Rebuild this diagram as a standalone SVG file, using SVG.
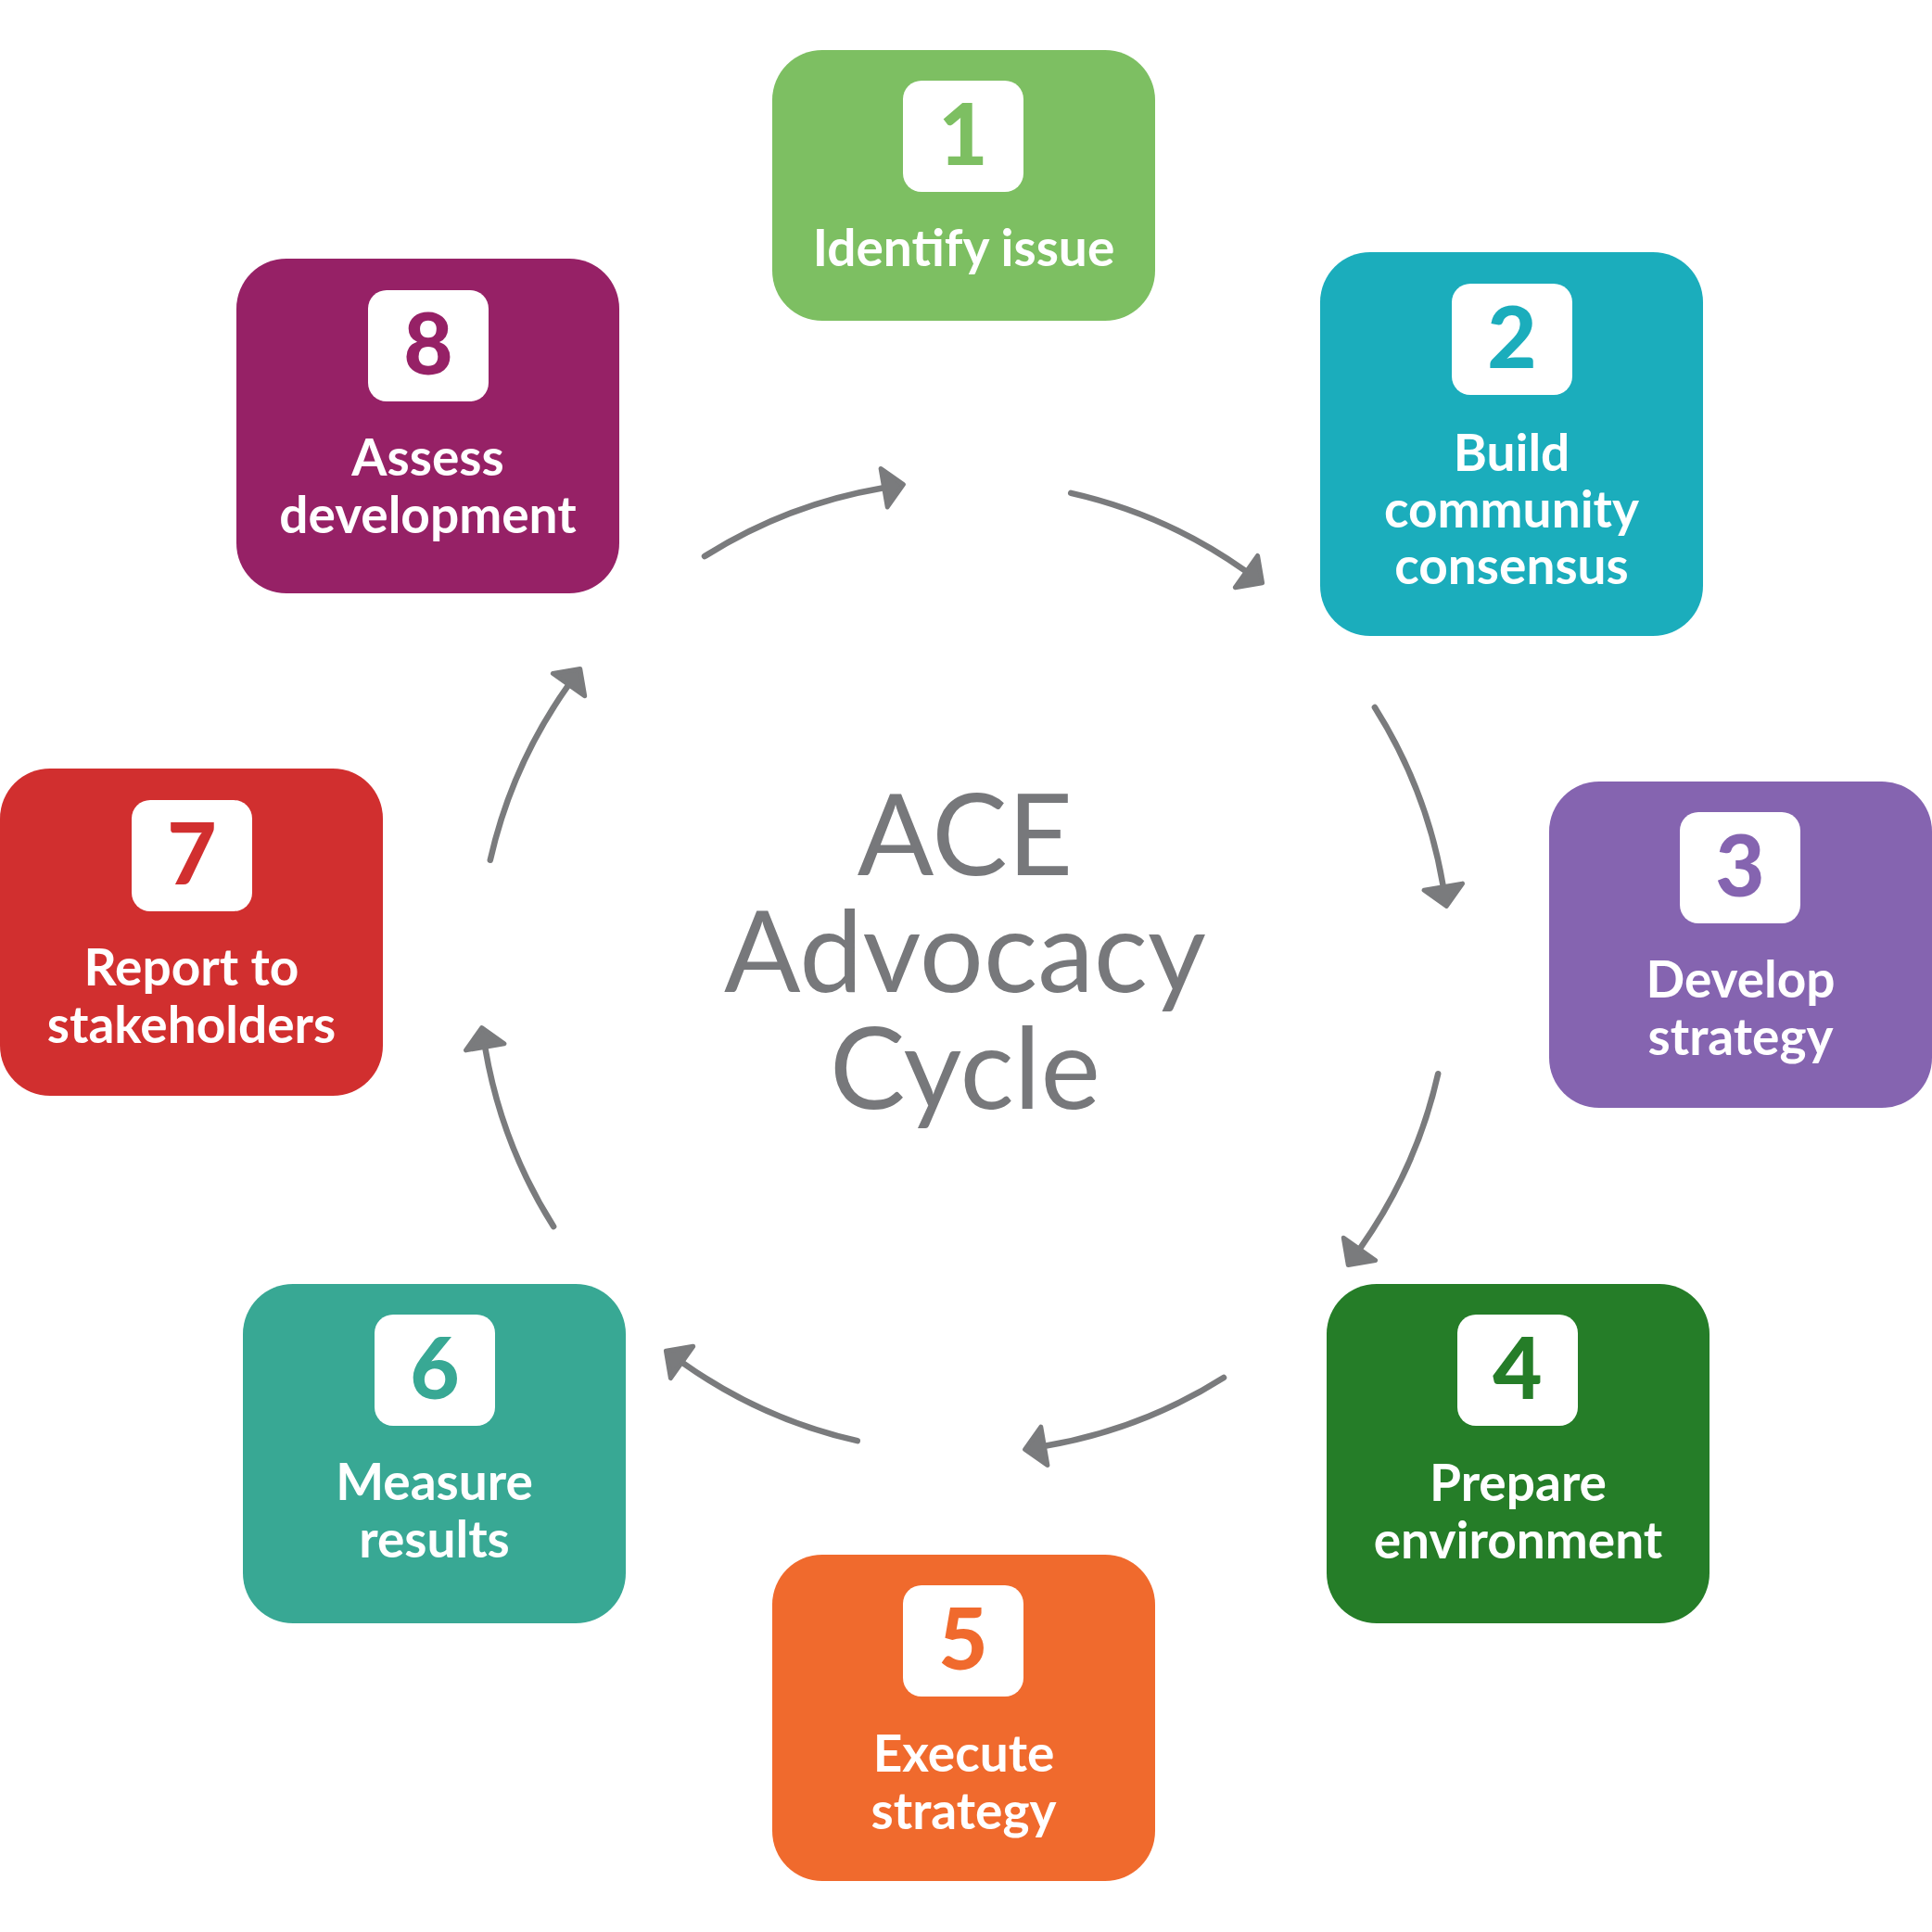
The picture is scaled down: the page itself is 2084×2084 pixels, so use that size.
<svg xmlns="http://www.w3.org/2000/svg" width="2084" height="2084" viewBox="0 0 2084 2084">
<style>
.box{stroke:none}
.tile{fill:#ffffff}
.num{font-family:Lato,"Noto Sans",sans-serif;font-weight:900;font-size:92px;text-anchor:middle}
.lbl{font-family:Lato,"Noto Sans",sans-serif;font-weight:700;font-size:55px;fill:#ffffff;text-anchor:middle}
.title{font-family:Lato,"Noto Sans",sans-serif;font-weight:400;font-size:122px;fill:#77787b;text-anchor:middle}
.arc{fill:none;stroke:#7a7b7d;stroke-width:6.5;stroke-linecap:round;marker-end:url(#head)}
</style>
<defs>
<marker id="head" markerUnits="userSpaceOnUse" viewBox="-10 -30 50 60" markerWidth="50" markerHeight="60" refX="0" refY="0" orient="auto">
<polygon points="2,-21 23,0 2,21" fill="#7a7b7d" stroke="#7a7b7d" stroke-width="5" stroke-linejoin="round"/>
</marker>
</defs>
<rect width="2084" height="2084" fill="#ffffff"/>
<g id="connectors">
<path class="arc" d="M760.0,600.1 A524,524 0 0 1 951.7,526.5"/>
<path class="arc" d="M1155.2,531.8 A524,524 0 0 1 1342.8,615.4"/>
<path class="arc" d="M1482.9,763.0 A524,524 0 0 1 1556.5,954.7"/>
<path class="arc" d="M1551.2,1158.2 A524,524 0 0 1 1467.6,1345.8"/>
<path class="arc" d="M1320.0,1485.9 A524,524 0 0 1 1128.3,1559.5"/>
<path class="arc" d="M924.8,1554.2 A524,524 0 0 1 737.2,1470.6"/>
<path class="arc" d="M597.1,1323.0 A524,524 0 0 1 523.5,1131.3"/>
<path class="arc" d="M528.8,927.8 A524,524 0 0 1 612.4,740.2"/>
</g>
<g id="title">
<text class="title" x="1041" y="944">ACE</text>
<text class="title" x="1041" y="1070">Advocacy</text>
<text class="title" x="1041" y="1196">Cycle</text>
</g>
<g id="node1">
<rect class="box" x="833" y="54" width="413" height="292" rx="54" fill="#7DBF62"/>
<rect class="tile" x="974" y="87" width="130" height="120" rx="20"/>
<text class="num" x="1039" y="178" fill="#7DBF62">1</text>
<text class="lbl" x="1039.5" y="287">Identify issue</text>
</g>
<g id="node2">
<rect class="box" x="1424" y="272" width="413" height="414" rx="54" fill="#1BADBC"/>
<rect class="tile" x="1566" y="306" width="130" height="120" rx="20"/>
<text class="num" x="1631" y="397" fill="#1BADBC">2</text>
<text class="lbl" x="1630.5" y="508">Build</text>
<text class="lbl" x="1630.5" y="569">community</text>
<text class="lbl" x="1630.5" y="630">consensus</text>
</g>
<g id="node3">
<rect class="box" x="1671" y="843" width="413" height="352" rx="54" fill="#8564B0"/>
<rect class="tile" x="1812" y="876" width="130" height="120" rx="20"/>
<text class="num" x="1877" y="967" fill="#8564B0">3</text>
<text class="lbl" x="1877.5" y="1076">Develop</text>
<text class="lbl" x="1877.5" y="1138">strategy</text>
</g>
<g id="node4">
<rect class="box" x="1431" y="1385" width="413" height="366" rx="54" fill="#257D28"/>
<rect class="tile" x="1572" y="1418" width="130" height="120" rx="20"/>
<text class="num" x="1637" y="1509" fill="#257D28">4</text>
<text class="lbl" x="1637.5" y="1619">Prepare</text>
<text class="lbl" x="1637.5" y="1681">environment</text>
</g>
<g id="node5">
<rect class="box" x="833" y="1677" width="413" height="352" rx="54" fill="#F06A2D"/>
<rect class="tile" x="974" y="1710" width="130" height="120" rx="20"/>
<text class="num" x="1039" y="1801" fill="#F06A2D">5</text>
<text class="lbl" x="1039.5" y="1911">Execute</text>
<text class="lbl" x="1039.5" y="1973">strategy</text>
</g>
<g id="node6">
<rect class="box" x="262" y="1385" width="413" height="366" rx="54" fill="#38A894"/>
<rect class="tile" x="404" y="1418" width="130" height="120" rx="20"/>
<text class="num" x="469" y="1509" fill="#38A894">6</text>
<text class="lbl" x="468.5" y="1618">Measure</text>
<text class="lbl" x="468.5" y="1680">results</text>
</g>
<g id="node7">
<rect class="box" x="0" y="829" width="413" height="353" rx="54" fill="#D12F2F"/>
<rect class="tile" x="142" y="863" width="130" height="120" rx="20"/>
<text class="num" x="207" y="954" fill="#D12F2F">7</text>
<text class="lbl" x="206.5" y="1063">Report to</text>
<text class="lbl" x="206.5" y="1125">stakeholders</text>
</g>
<g id="node8">
<rect class="box" x="255" y="279" width="413" height="361" rx="54" fill="#962166"/>
<rect class="tile" x="397" y="313" width="130" height="120" rx="20"/>
<text class="num" x="462" y="404" fill="#962166">8</text>
<text class="lbl" x="461.5" y="513">Assess</text>
<text class="lbl" x="461.5" y="575">development</text>
</g>
</svg>
